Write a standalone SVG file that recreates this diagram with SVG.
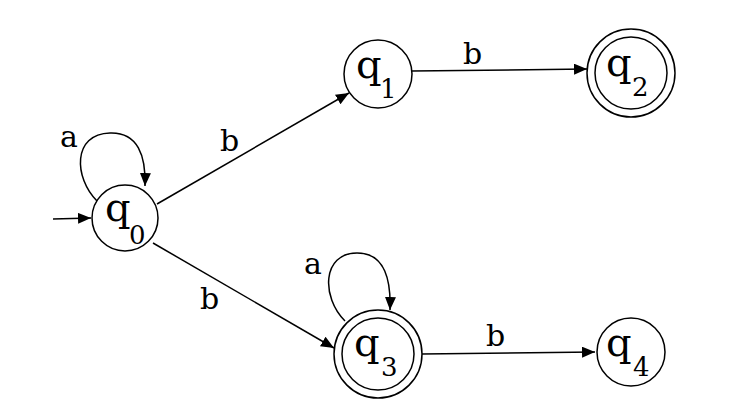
<svg xmlns="http://www.w3.org/2000/svg" width="746" height="408" viewBox="0 0 746 408">
<defs>
<marker id="arr" markerWidth="13" markerHeight="11" refX="13" refY="5.5" orient="auto" markerUnits="userSpaceOnUse">
<path d="M0,0 L13,5.5 L0,11 z" fill="#000"/>
</marker>
<style>
.st{fill:#fff;stroke:#000;stroke-width:1.5}
.ed{fill:none;stroke:#000;stroke-width:1.5;marker-end:url(#arr)}
.q{font-family:"DejaVu Serif",serif;font-size:40px;fill:#000}
.sub{font-family:"DejaVu Serif",serif;font-size:26px;fill:#000}
.lb{font-family:"DejaVu Serif",serif;font-size:30px;fill:#000}
</style>
</defs>
<rect width="746" height="408" fill="#fff"/>
<g id="connectors">
<path class="ed" d="M53,219 L91,218"/>
<path class="ed" d="M97,201 C74,178 72,134 110,133 C138,132 146,156 145,186"/>
<path class="ed" d="M157,204 L349,93"/>
<path class="ed" d="M153,243 L334,348"/>
<path class="ed" d="M412,71 L587,69"/>
<path class="ed" d="M345,321 C321,297 322,253 357,253 C386,253 391,282 390,310"/>
<path class="ed" d="M422,354 L595,352"/>
<text class="lb" x="60" y="147">a</text>
<text class="lb" x="220" y="151">b</text>
<text class="lb" x="200" y="309">b</text>
<text class="lb" x="463" y="64">b</text>
<text class="lb" x="304" y="274">a</text>
<text class="lb" x="486" y="346">b</text>
</g>
<g id="q0">
<circle class="st" cx="125" cy="218" r="33"/>
<text class="q" x="105" y="221">q</text><text class="sub" x="129" y="244">0</text>
</g>
<g id="q1">
<circle class="st" cx="378" cy="74" r="34"/>
<text class="q" x="356" y="78">q</text><text class="sub" x="380" y="98">1</text>
</g>
<g id="q2">
<circle class="st" cx="631" cy="73" r="44"/>
<circle class="st" cx="631" cy="73" r="36"/>
<text class="q" x="606" y="76">q</text><text class="sub" x="632" y="96">2</text>
</g>
<g id="q3">
<circle class="st" cx="378" cy="354" r="44"/>
<circle class="st" cx="378" cy="354" r="36"/>
<text class="q" x="354" y="356">q</text><text class="sub" x="381" y="376">3</text>
</g>
<g id="q4">
<circle class="st" cx="631" cy="352" r="34"/>
<text class="q" x="606" y="356">q</text><text class="sub" x="633" y="376">4</text>
</g>
</svg>
